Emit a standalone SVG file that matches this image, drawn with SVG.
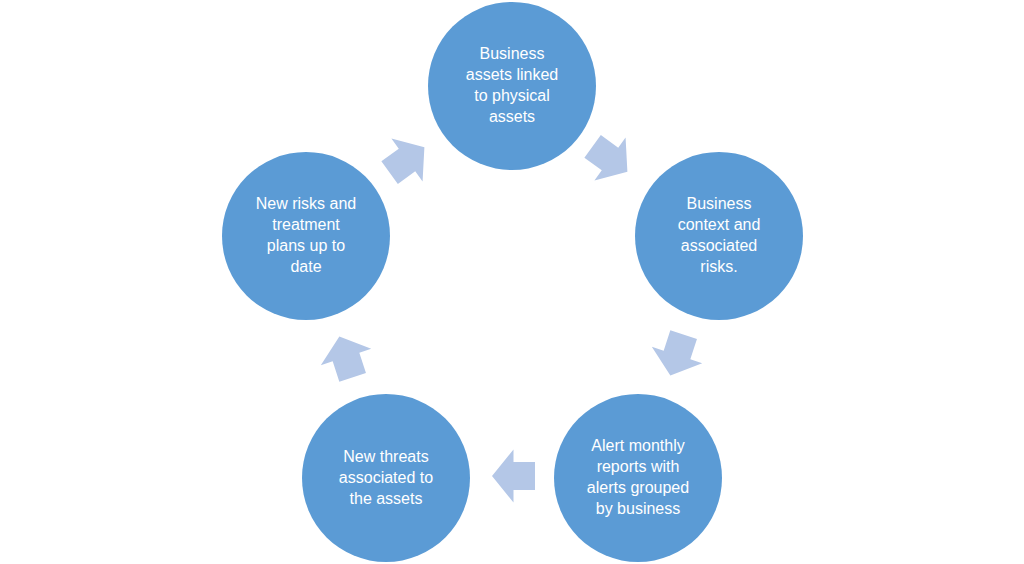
<svg xmlns="http://www.w3.org/2000/svg" width="1024" height="564" viewBox="0 0 1024 564">
<style>
.c{fill:#5B9BD5}
.t{fill:#fff;font-family:"Liberation Sans",Arial,sans-serif;font-size:16px;text-anchor:middle}
.a{fill:#B4C7E7}
</style>
<defs><path id="ar" d="M-21.5,-14 L0,-14 L0,-26.5 L21.5,0 L0,26.5 L0,14 L-21.5,14 Z"/></defs>
<rect width="1024" height="564" fill="#fff"/>
<g id="connectors">
<use href="#ar" class="a" transform="translate(610,159) rotate(36)"/>
<use href="#ar" class="a" transform="translate(677,355) rotate(108)"/>
<use href="#ar" class="a" transform="translate(513.5,476) rotate(180)"/>
<use href="#ar" class="a" transform="translate(346,357) rotate(252)"/>
<use href="#ar" class="a" transform="translate(407,160) rotate(-36)"/>
</g>
<g id="n1"><circle class="c" cx="512" cy="86" r="84"/><text class="t" x="512" y="59">Business<tspan x="512" dy="21">assets linked</tspan><tspan x="512" dy="21">to physical</tspan><tspan x="512" dy="21">assets</tspan></text></g>
<g id="n2"><circle class="c" cx="719" cy="236" r="84"/><text class="t" x="719" y="209">Business<tspan x="719" dy="21">context and</tspan><tspan x="719" dy="21">associated</tspan><tspan x="719" dy="21">risks.</tspan></text></g>
<g id="n3"><circle class="c" cx="638" cy="478" r="84"/><text class="t" x="638" y="451">Alert monthly<tspan x="638" dy="21">reports with</tspan><tspan x="638" dy="21">alerts grouped</tspan><tspan x="638" dy="21">by business</tspan></text></g>
<g id="n4"><circle class="c" cx="386" cy="478" r="84"/><text class="t" x="386" y="462">New threats<tspan x="386" dy="21">associated to</tspan><tspan x="386" dy="21">the assets</tspan></text></g>
<g id="n5"><circle class="c" cx="306" cy="236" r="84"/><text class="t" x="306" y="209">New risks and<tspan x="306" dy="21">treatment</tspan><tspan x="306" dy="21">plans up to</tspan><tspan x="306" dy="21">date</tspan></text></g>
</svg>
